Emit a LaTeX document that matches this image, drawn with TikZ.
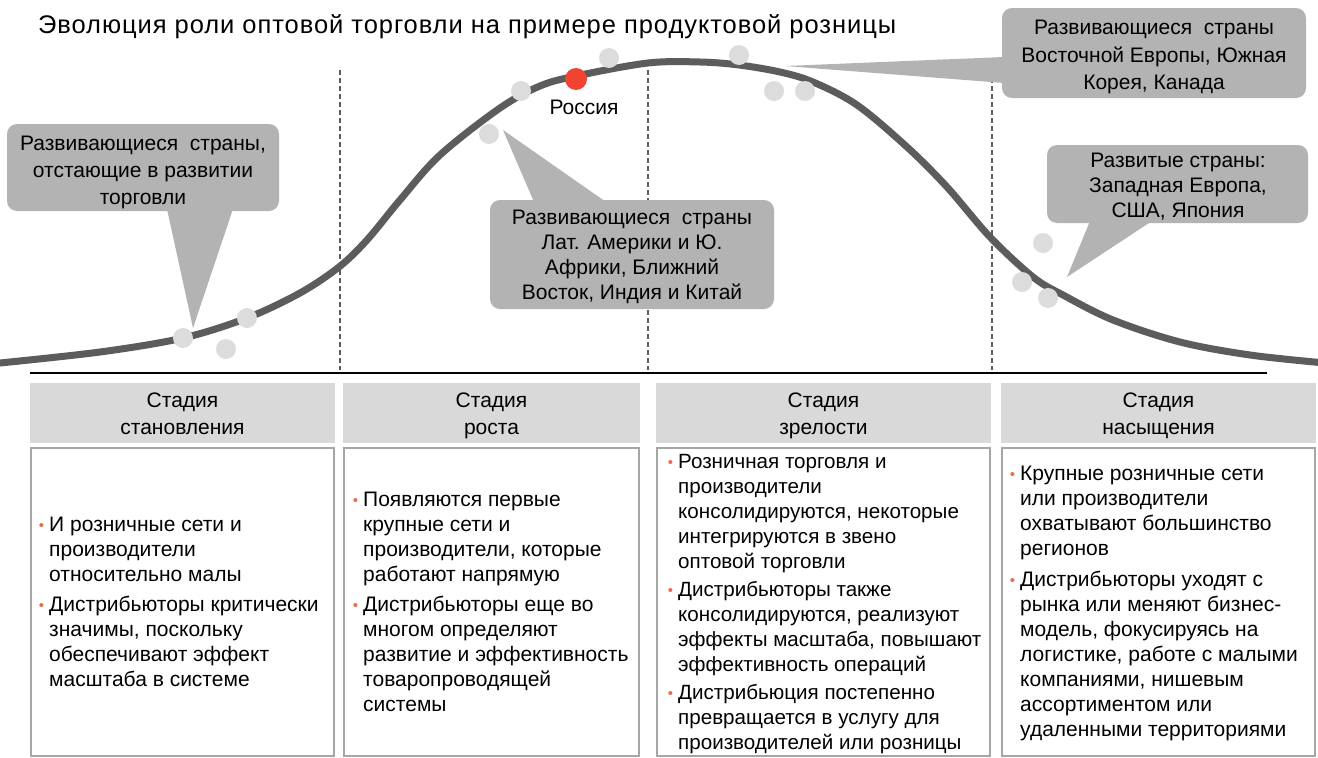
\documentclass[tikz,border=0pt]{standalone}
\usepackage{fontspec}
\setmainfont{Liberation Sans}
\newfontfamily\titlefont[LetterSpace=3.7]{Liberation Sans}
\usetikzlibrary{calc}
\definecolor{curvecol}{HTML}{5C5C5C}
\definecolor{calloutcol}{HTML}{B3B3B3}
\definecolor{dotcol}{HTML}{DCDCDC}
\definecolor{ruscol}{HTML}{F04332}
\definecolor{hdrcol}{HTML}{D9D9D9}
\definecolor{bordcol}{HTML}{A6A6A6}
\definecolor{bulcol}{HTML}{EE6A4C}
\newcommand{\bul}{\leavevmode\llap{\textcolor{bulcol}{\fontsize{15}{15}\selectfont\raisebox{1pt}{•}}\hspace{5pt}}}
\begin{document}
\begin{tikzpicture}[x=1pt,y=-1pt,
  callbg/.style={fill=calloutcol, draw=none, rounded corners=10pt},
  ctext/.style={inner sep=0pt, align=center},
  gdot/.style={circle, fill=dotcol, minimum size=20pt, inner sep=0pt},
  rdot/.style={circle, fill=ruscol, minimum size=22pt, inner sep=0pt},
  vline/.style={draw=curvecol, line width=1.5pt, dash pattern=on 5pt off 3pt},
  hdrbox/.style={fill=hdrcol, draw=none, minimum height=60pt, inner sep=0pt},
  hdrtext/.style={inner sep=0pt, align=center, font=\fontsize{21}{27}\selectfont},
  cbox/.style={draw=bordcol, line width=2pt, fill=white, minimum height=308pt, inner sep=0pt},
  body/.style={anchor=west, align=left, inner sep=0pt, font=\fontsize{21}{25}\selectfont}
]
\useasboundingbox (0,0) rectangle (1318,758);
\fill[white] (0,0) rectangle (1318,758);

% title
\node[anchor=west, inner sep=0pt, font=\titlefont\fontsize{25.5}{30}\selectfont] (title) at (38,27) {Эволюция роли оптовой торговли на примере продуктовой розницы};

% dashed separators
\coordinate (v1t) at (340,70); \coordinate (v1b) at (340,370);
\coordinate (v2t) at (648,70); \coordinate (v2b) at (648,370);
\coordinate (v3t) at (992,70); \coordinate (v3b) at (992,370);
\draw[vline] (v1t) -- (v1b);
\draw[vline] (v2t) -- (v2b);
\draw[vline] (v3t) -- (v3b);

% callout 1
\coordinate (c1a) at (7,124); \coordinate (c1b) at (279,211);
\coordinate (c1p) at (167,209); \coordinate (c1q) at (233,209); \coordinate (c1tip) at (193,328);
\fill[callbg] (c1a) rectangle (c1b);
\fill[calloutcol] (c1p) -- (c1tip) -- (c1q) -- cycle;
\node[ctext, font=\fontsize{21}{27}\selectfont] (c1) at (143,172)
  {Развивающиеся\ \ страны,\\ отстающие в развитии\\ торговли};

% callout 2
\coordinate (c2a) at (490,200); \coordinate (c2b) at (774,309);
\coordinate (c2p) at (534,202); \coordinate (c2q) at (606,202); \coordinate (c2tip) at (503,130);
\fill[callbg] (c2a) rectangle (c2b);
\fill[calloutcol] (c2p) -- (c2tip) -- (c2q) -- cycle;
\node[ctext, font=\fontsize{21}{25}\selectfont] (c2) at (632,257)
  {Развивающиеся\ \ страны\\ Лат. Америки и Ю.\\ Африки, Ближний\\ Восток, Индия и Китай};

% callout 3
\coordinate (c3a) at (1002,8); \coordinate (c3b) at (1306,98);
\coordinate (c3p) at (1004,57); \coordinate (c3q) at (1004,83); \coordinate (c3tip) at (785,66);
\fill[callbg] (c3a) rectangle (c3b);
\fill[calloutcol] (c3p) -- (c3tip) -- (c3q) -- cycle;
\node[ctext, font=\fontsize{21}{27.5}\selectfont] (c3) at (1154,57)
  {Развивающиеся\ \ страны\\ Восточной Европы, Южная\\ Корея, Канада};

% callout 4
\coordinate (c4a) at (1047,145); \coordinate (c4b) at (1308,223);
\coordinate (c4p) at (1090,221); \coordinate (c4q) at (1152,221); \coordinate (c4tip) at (1067,277);
\fill[callbg] (c4a) rectangle (c4b);
\fill[calloutcol] (c4p) -- (c4tip) -- (c4q) -- cycle;
\node[ctext, font=\fontsize{21}{25}\selectfont] (c4) at (1178,187)
  {Развитые страны:\\ Западная Европа,\\ США, Япония};

% curve
\draw[curvecol, line width=7pt, line cap=round] plot[smooth, tension=0.55] coordinates {
 (-5,363.5) (100,352) (183,338) (247,318) (300,293) (339,267) (367,240) (400,200) (440,155)
 (500,108) (540,86) (576,76) (648,63) (700,62) (739,65) (780,72) (813,82) (857,105)
 (907,147) (947,187) (990,237) (1033,277) (1063,295) (1113,320) (1180,342) (1250,355) (1325,363)};

% dots
\node[gdot] (d1) at (183,338) {};
\node[gdot] (d2) at (247,318) {};
\node[gdot] (d3) at (226,349) {};
\node[gdot] (d4) at (489,134) {};
\node[gdot] (d5) at (521,91) {};
\node[gdot] (d6) at (609,58) {};
\node[gdot] (d7) at (739,55) {};
\node[gdot] (d8) at (774,91) {};
\node[gdot] (d9) at (805,91) {};
\node[gdot] (d10) at (1043,243) {};
\node[gdot] (d11) at (1022,282) {};
\node[gdot] (d12) at (1048,298) {};
\node[rdot] (rus) at (576,79) {};
\node[inner sep=0pt, font=\fontsize{21}{25}\selectfont] (ruslabel) at (584,107) {Россия};

% baseline
\coordinate (bl) at (30,373); \coordinate (br) at (1267,373);
\draw[black, line width=2pt] (bl) -- (br);

% headers
\node[hdrbox, minimum width=305pt] (h1) at (182.5,413) {};
\node[hdrbox, minimum width=297pt] (h2) at (491.5,413) {};
\node[hdrbox, minimum width=335pt] (h3) at (823.5,413) {};
\node[hdrbox, minimum width=315pt] (h4) at (1158.5,413) {};
\node[hdrtext] (h1t) at ($(h1.center)+(0,3)$) {Стадия\\ становления\vphantom{р}};
\node[hdrtext] (h2t) at ($(h2.center)+(0,3)$) {Стадия\\ роста};
\node[hdrtext] (h3t) at ($(h3.center)+(0,3)$) {Стадия\\ зрелости};
\node[hdrtext] (h4t) at ($(h4.center)+(0,3)$) {Стадия\\ насыщения\vphantom{р}};

% content boxes
\node[cbox, minimum width=303pt] (b1) at (182.5,602) {};
\node[cbox, minimum width=295pt] (b2) at (491.5,602) {};
\node[cbox, minimum width=333pt] (b3) at (823.5,602) {};
\node[cbox, minimum width=313pt] (b4) at (1158.5,602) {};

\node[body] (t1) at (49,602) {\bul И розничные сети и\\ производители\\ относительно малы\\[5pt]
 \bul Дистрибьюторы критически\\ значимы, поскольку\\ обеспечивают эффект\\ масштаба в системе};

\node[body] (t2) at (363,602) {\bul Появляются первые\\ крупные сети и\\ производители, которые\\ работают напрямую\\[5pt]
 \bul Дистрибьюторы еще во\\ многом определяют\\ развитие и эффективность\\ товаропроводящей\\ системы};

\node[body, font=\fontsize{20.6}{25}\selectfont] (t3) at (678,604) {\bul Розничная торговля и\\ производители\\ консолидируются, некоторые\\ интегрируются в звено\\ оптовой торговли\\[3pt]
 \bul Дистрибьюторы также\\ консолидируются, реализуют\\ эффекты масштаба, повышают\\ эффективность операций\\[3pt]
 \bul Дистрибьюция постепенно\\ превращается в услугу для\\ производителей или розницы};

\node[body] (t4) at (1020,603) {\bul Крупные розничные сети\\ или производители\\ охватывают большинство\\ регионов\\[6pt]
 \bul Дистрибьюторы уходят с\\ рынка или меняют бизнес-\\ модель, фокусируясь на\\ логистике, работе с малыми\\ компаниями, нишевым\\ ассортиментом или\\ удаленными территориями};
\end{tikzpicture}
\end{document}
